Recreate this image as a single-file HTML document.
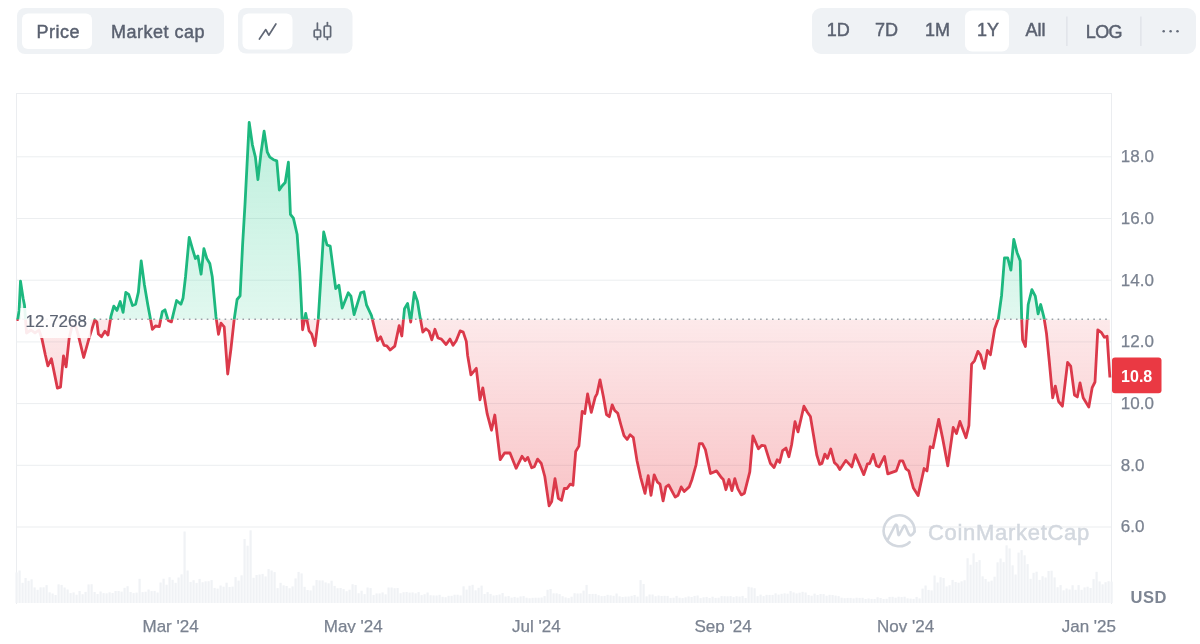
<!DOCTYPE html>
<html><head><meta charset="utf-8">
<style>
html,body{margin:0;padding:0;background:#fff;width:1200px;height:644px;overflow:hidden;}
svg{display:block;font-family:"Liberation Sans",sans-serif;will-change:transform;}
.btn{fill:#5a6170;font-size:18px;font-weight:normal;stroke:#5a6170;stroke-width:0.45;letter-spacing:0.5px;}
.btn2{fill:#5a6170;font-size:18px;stroke:#5a6170;stroke-width:0.45;}
.ax{fill:#7a8290;font-size:17px;stroke:#7a8290;stroke-width:0.25;}
</style></head><body>
<svg width="1200" height="644" viewBox="0 0 1200 644">
<defs>
  <linearGradient id="gG" x1="0" y1="120" x2="0" y2="319.5" gradientUnits="userSpaceOnUse">
    <stop offset="0" stop-color="#16c784" stop-opacity="0.28"/>
    <stop offset="1" stop-color="#16c784" stop-opacity="0.13"/>
  </linearGradient>
  <linearGradient id="gR" x1="0" y1="319.5" x2="0" y2="505" gradientUnits="userSpaceOnUse">
    <stop offset="0" stop-color="#ea3943" stop-opacity="0.11"/>
    <stop offset="1" stop-color="#ea3943" stop-opacity="0.30"/>
  </linearGradient>
  <clipPath id="cTop"><rect x="0" y="0" width="1200" height="319.5"/></clipPath>
  <clipPath id="cBot"><rect x="0" y="319.5" width="1200" height="330"/></clipPath>
</defs>

<!-- button group 1 -->
<rect x="17" y="8" width="207" height="46" rx="8" fill="#eff2f5"/>
<rect x="22" y="13.5" width="70" height="35.5" rx="6" fill="#fff"/>
<text class="btn" x="36.4" y="38">Price</text>
<text class="btn" x="111" y="38">Market cap</text>

<!-- button group 2 -->
<rect x="238" y="8" width="114.5" height="45.5" rx="8" fill="#eff2f5"/>
<rect x="242.5" y="13.5" width="50" height="36" rx="6" fill="#fff"/>
<polyline points="259.4,39 265.8,29.6 268.8,35.2 275.9,24" fill="none" stroke="#616876" stroke-width="1.7" stroke-linecap="round" stroke-linejoin="round"/>
<g fill="none" stroke="#616876" stroke-width="1.7" stroke-linecap="round">
  <line x1="317.4" y1="23" x2="317.4" y2="39.4"/>
  <rect x="314.2" y="30" width="6.4" height="7" rx="1" fill="#eff2f5"/>
  <line x1="327.4" y1="22.5" x2="327.4" y2="39.4"/>
  <rect x="324.2" y="26" width="6.4" height="11" rx="1" fill="#eff2f5"/>
</g>

<!-- button group 3 -->
<rect x="812" y="8" width="384" height="46" rx="9" fill="#eff2f5"/>
<rect x="965" y="10.5" width="44" height="41" rx="7" fill="#fff"/>
<text class="btn2" x="826.7" y="36">1D</text>
<text class="btn2" x="875" y="36">7D</text>
<text class="btn2" x="925" y="36">1M</text>
<text class="btn2" x="977" y="36">1Y</text>
<text class="btn2" x="1025.4" y="36">All</text>
<rect x="1066.4" y="16.5" width="1" height="29.5" fill="#d9dde3"/>
<text class="btn2" x="1085.8" y="37.5" letter-spacing="-0.6">LOG</text>
<rect x="1140.4" y="16.5" width="1" height="29.5" fill="#d9dde3"/>
<circle cx="1163.7" cy="31.3" r="1.25" fill="#656c7a"/>
<circle cx="1170.6" cy="31.3" r="1.25" fill="#656c7a"/>
<circle cx="1177.5" cy="31.3" r="1.25" fill="#656c7a"/>

<!-- chart frame -->
<g fill="#ebedf0">
  <rect x="16" y="93" width="1096" height="1"/>
  <rect x="16" y="93" width="1" height="511"/>
  <rect x="1111" y="93" width="1" height="511"/>
</g>
<g fill="#eceef0">
  <rect x="16" y="156.3" width="1095.5" height="1"/>
  <rect x="16" y="218" width="1095.5" height="1"/>
  <rect x="16" y="279.7" width="1095.5" height="1"/>
  <rect x="16" y="341.4" width="1095.5" height="1"/>
  <rect x="16" y="403.1" width="1095.5" height="1"/>
  <rect x="16" y="464.8" width="1095.5" height="1"/>
  <rect x="16" y="526.5" width="1095.5" height="1"/>
</g>

<!-- watermark -->
<g fill="none" stroke="#d3d8df" stroke-width="2.6" stroke-linecap="round" stroke-linejoin="round">
  <path d="M909.6,542.2 A15.5,15.5 0 1 1 914.6,531.5"/>
  <path d="M887.6,540 L895,525.5 Q896,523.5 897,525.5 L898.2,534 Q898.6,536.5 899.6,534 L903.5,526.5 Q904.5,524.5 905.5,526.5 L908.5,533.5 Q911,538 914.6,531.5"/>
</g>
<text x="928" y="540.3" font-size="22" fill="#d3d8df" stroke="#d3d8df" stroke-width="0.5" letter-spacing="0.7">CoinMarketCap</text>
<!-- volume -->
<g fill="#f0f2f5"><rect x="15.5" y="572.4" width="2.2" height="30.6"/><rect x="18.5" y="570.5" width="2.2" height="32.5"/><rect x="21.5" y="582.8" width="2.2" height="20.2"/><rect x="24.5" y="578.0" width="2.2" height="25.0"/><rect x="27.5" y="580.8" width="2.2" height="22.2"/><rect x="30.5" y="579.3" width="2.2" height="23.7"/><rect x="33.5" y="587.4" width="2.2" height="15.6"/><rect x="36.5" y="589.8" width="2.2" height="13.2"/><rect x="39.5" y="587.3" width="2.2" height="15.7"/><rect x="42.5" y="587.3" width="2.2" height="15.7"/><rect x="45.5" y="585.1" width="2.2" height="17.9"/><rect x="48.5" y="592.3" width="2.2" height="10.7"/><rect x="51.5" y="593.5" width="2.2" height="9.5"/><rect x="54.5" y="595.0" width="2.2" height="8.0"/><rect x="57.5" y="584.3" width="2.2" height="18.7"/><rect x="60.5" y="584.9" width="2.2" height="18.1"/><rect x="63.5" y="587.5" width="2.2" height="15.5"/><rect x="66.5" y="589.5" width="2.2" height="13.5"/><rect x="69.5" y="593.1" width="2.2" height="9.9"/><rect x="72.5" y="592.4" width="2.2" height="10.6"/><rect x="75.5" y="594.7" width="2.2" height="8.3"/><rect x="78.5" y="591.0" width="2.2" height="12.0"/><rect x="81.5" y="594.2" width="2.2" height="8.8"/><rect x="84.5" y="591.9" width="2.2" height="11.1"/><rect x="87.5" y="584.4" width="2.2" height="18.6"/><rect x="90.5" y="584.2" width="2.2" height="18.8"/><rect x="93.5" y="592.0" width="2.2" height="11.0"/><rect x="96.5" y="594.0" width="2.2" height="9.0"/><rect x="99.5" y="591.5" width="2.2" height="11.5"/><rect x="102.5" y="593.1" width="2.2" height="9.9"/><rect x="105.5" y="593.3" width="2.2" height="9.7"/><rect x="108.5" y="592.3" width="2.2" height="10.7"/><rect x="111.5" y="593.0" width="2.2" height="10.0"/><rect x="114.5" y="591.0" width="2.2" height="12.0"/><rect x="117.5" y="591.0" width="2.2" height="12.0"/><rect x="120.5" y="591.6" width="2.2" height="11.4"/><rect x="123.5" y="587.8" width="2.2" height="15.2"/><rect x="126.5" y="586.2" width="2.2" height="16.8"/><rect x="129.5" y="592.0" width="2.2" height="11.0"/><rect x="132.5" y="593.1" width="2.2" height="9.9"/><rect x="135.5" y="592.6" width="2.2" height="10.4"/><rect x="138.5" y="578.8" width="2.2" height="24.2"/><rect x="141.5" y="592.1" width="2.2" height="10.9"/><rect x="144.5" y="591.7" width="2.2" height="11.3"/><rect x="147.5" y="589.5" width="2.2" height="13.5"/><rect x="150.5" y="591.1" width="2.2" height="11.9"/><rect x="153.5" y="590.9" width="2.2" height="12.1"/><rect x="156.5" y="592.5" width="2.2" height="10.5"/><rect x="159.5" y="582.5" width="2.2" height="20.5"/><rect x="162.5" y="578.7" width="2.2" height="24.3"/><rect x="165.5" y="584.7" width="2.2" height="18.3"/><rect x="168.5" y="577.2" width="2.2" height="25.8"/><rect x="171.5" y="579.8" width="2.2" height="23.2"/><rect x="174.5" y="582.8" width="2.2" height="20.2"/><rect x="177.5" y="577.5" width="2.2" height="25.5"/><rect x="180.5" y="574.3" width="2.2" height="28.7"/><rect x="183.5" y="531.5" width="2.2" height="71.5"/><rect x="186.5" y="570.5" width="2.2" height="32.5"/><rect x="189.5" y="581.9" width="2.2" height="21.1"/><rect x="192.5" y="580.2" width="2.2" height="22.8"/><rect x="195.5" y="582.9" width="2.2" height="20.1"/><rect x="198.5" y="578.9" width="2.2" height="24.1"/><rect x="201.5" y="582.2" width="2.2" height="20.8"/><rect x="204.5" y="581.3" width="2.2" height="21.7"/><rect x="207.5" y="581.2" width="2.2" height="21.8"/><rect x="210.5" y="580.1" width="2.2" height="22.9"/><rect x="213.5" y="587.9" width="2.2" height="15.1"/><rect x="216.5" y="588.6" width="2.2" height="14.4"/><rect x="219.5" y="585.5" width="2.2" height="17.5"/><rect x="222.5" y="586.7" width="2.2" height="16.3"/><rect x="225.5" y="582.7" width="2.2" height="20.3"/><rect x="228.5" y="587.0" width="2.2" height="16.0"/><rect x="231.5" y="586.6" width="2.2" height="16.4"/><rect x="234.5" y="577.1" width="2.2" height="25.9"/><rect x="237.5" y="580.6" width="2.2" height="22.4"/><rect x="240.5" y="575.3" width="2.2" height="27.7"/><rect x="243.5" y="539.0" width="2.2" height="64.0"/><rect x="246.5" y="545.7" width="2.2" height="57.3"/><rect x="249.5" y="530.3" width="2.2" height="72.7"/><rect x="252.5" y="577.8" width="2.2" height="25.2"/><rect x="255.5" y="575.0" width="2.2" height="28.0"/><rect x="258.5" y="574.5" width="2.2" height="28.5"/><rect x="261.5" y="573.9" width="2.2" height="29.1"/><rect x="264.5" y="576.4" width="2.2" height="26.6"/><rect x="267.5" y="569.1" width="2.2" height="33.9"/><rect x="270.5" y="570.5" width="2.2" height="32.5"/><rect x="273.5" y="572.1" width="2.2" height="30.9"/><rect x="276.5" y="588.1" width="2.2" height="14.9"/><rect x="279.5" y="582.8" width="2.2" height="20.2"/><rect x="282.5" y="585.3" width="2.2" height="17.7"/><rect x="285.5" y="586.0" width="2.2" height="17.0"/><rect x="288.5" y="588.2" width="2.2" height="14.8"/><rect x="291.5" y="586.4" width="2.2" height="16.6"/><rect x="294.5" y="578.4" width="2.2" height="24.6"/><rect x="297.5" y="571.9" width="2.2" height="31.1"/><rect x="300.5" y="573.4" width="2.2" height="29.6"/><rect x="303.5" y="586.8" width="2.2" height="16.2"/><rect x="306.5" y="590.0" width="2.2" height="13.0"/><rect x="309.5" y="590.4" width="2.2" height="12.6"/><rect x="312.5" y="585.6" width="2.2" height="17.4"/><rect x="315.5" y="580.0" width="2.2" height="23.0"/><rect x="318.5" y="580.4" width="2.2" height="22.6"/><rect x="321.5" y="580.4" width="2.2" height="22.6"/><rect x="324.5" y="582.4" width="2.2" height="20.6"/><rect x="327.5" y="583.3" width="2.2" height="19.7"/><rect x="330.5" y="580.7" width="2.2" height="22.3"/><rect x="333.5" y="585.9" width="2.2" height="17.1"/><rect x="336.5" y="588.2" width="2.2" height="14.8"/><rect x="339.5" y="588.0" width="2.2" height="15.0"/><rect x="342.5" y="589.1" width="2.2" height="13.9"/><rect x="345.5" y="591.2" width="2.2" height="11.8"/><rect x="348.5" y="589.7" width="2.2" height="13.3"/><rect x="351.5" y="584.2" width="2.2" height="18.8"/><rect x="354.5" y="585.0" width="2.2" height="18.0"/><rect x="357.5" y="593.2" width="2.2" height="9.8"/><rect x="360.5" y="590.7" width="2.2" height="12.3"/><rect x="363.5" y="594.1" width="2.2" height="8.9"/><rect x="366.5" y="587.5" width="2.2" height="15.5"/><rect x="369.5" y="588.1" width="2.2" height="14.9"/><rect x="372.5" y="594.9" width="2.2" height="8.1"/><rect x="375.5" y="593.4" width="2.2" height="9.6"/><rect x="378.5" y="593.4" width="2.2" height="9.6"/><rect x="381.5" y="592.4" width="2.2" height="10.6"/><rect x="384.5" y="594.3" width="2.2" height="8.7"/><rect x="387.5" y="587.5" width="2.2" height="15.5"/><rect x="390.5" y="587.5" width="2.2" height="15.5"/><rect x="393.5" y="588.2" width="2.2" height="14.8"/><rect x="396.5" y="588.0" width="2.2" height="15.0"/><rect x="399.5" y="593.2" width="2.2" height="9.8"/><rect x="402.5" y="592.2" width="2.2" height="10.8"/><rect x="405.5" y="592.0" width="2.2" height="11.0"/><rect x="408.5" y="592.6" width="2.2" height="10.4"/><rect x="411.5" y="592.4" width="2.2" height="10.6"/><rect x="414.5" y="593.3" width="2.2" height="9.7"/><rect x="417.5" y="592.1" width="2.2" height="10.9"/><rect x="420.5" y="595.1" width="2.2" height="7.9"/><rect x="423.5" y="594.2" width="2.2" height="8.8"/><rect x="426.5" y="592.5" width="2.2" height="10.5"/><rect x="429.5" y="595.2" width="2.2" height="7.8"/><rect x="432.5" y="595.4" width="2.2" height="7.6"/><rect x="435.5" y="595.5" width="2.2" height="7.5"/><rect x="438.5" y="594.8" width="2.2" height="8.2"/><rect x="441.5" y="596.8" width="2.2" height="6.2"/><rect x="444.5" y="597.2" width="2.2" height="5.8"/><rect x="447.5" y="595.8" width="2.2" height="7.2"/><rect x="450.5" y="595.8" width="2.2" height="7.2"/><rect x="453.5" y="594.7" width="2.2" height="8.3"/><rect x="456.5" y="594.7" width="2.2" height="8.3"/><rect x="459.5" y="595.4" width="2.2" height="7.6"/><rect x="462.5" y="586.3" width="2.2" height="16.7"/><rect x="465.5" y="589.6" width="2.2" height="13.4"/><rect x="468.5" y="585.7" width="2.2" height="17.3"/><rect x="471.5" y="584.8" width="2.2" height="18.2"/><rect x="474.5" y="590.3" width="2.2" height="12.7"/><rect x="477.5" y="587.8" width="2.2" height="15.2"/><rect x="480.5" y="585.6" width="2.2" height="17.4"/><rect x="483.5" y="594.0" width="2.2" height="9.0"/><rect x="486.5" y="592.1" width="2.2" height="10.9"/><rect x="489.5" y="593.9" width="2.2" height="9.1"/><rect x="492.5" y="595.5" width="2.2" height="7.5"/><rect x="495.5" y="595.1" width="2.2" height="7.9"/><rect x="498.5" y="594.5" width="2.2" height="8.5"/><rect x="501.5" y="593.0" width="2.2" height="10.0"/><rect x="504.5" y="596.5" width="2.2" height="6.5"/><rect x="507.5" y="596.0" width="2.2" height="7.0"/><rect x="510.5" y="597.6" width="2.2" height="5.4"/><rect x="513.5" y="596.9" width="2.2" height="6.1"/><rect x="516.5" y="597.6" width="2.2" height="5.4"/><rect x="519.5" y="596.4" width="2.2" height="6.6"/><rect x="522.5" y="596.1" width="2.2" height="6.9"/><rect x="525.5" y="597.7" width="2.2" height="5.3"/><rect x="528.5" y="598.2" width="2.2" height="4.8"/><rect x="531.5" y="597.8" width="2.2" height="5.2"/><rect x="534.5" y="597.7" width="2.2" height="5.3"/><rect x="537.5" y="597.7" width="2.2" height="5.3"/><rect x="540.5" y="597.5" width="2.2" height="5.5"/><rect x="543.5" y="596.1" width="2.2" height="6.9"/><rect x="546.5" y="589.8" width="2.2" height="13.2"/><rect x="549.5" y="589.0" width="2.2" height="14.0"/><rect x="552.5" y="593.3" width="2.2" height="9.7"/><rect x="555.5" y="593.3" width="2.2" height="9.7"/><rect x="558.5" y="594.1" width="2.2" height="8.9"/><rect x="561.5" y="596.2" width="2.2" height="6.8"/><rect x="564.5" y="597.4" width="2.2" height="5.6"/><rect x="567.5" y="598.1" width="2.2" height="4.9"/><rect x="570.5" y="596.7" width="2.2" height="6.3"/><rect x="573.5" y="593.2" width="2.2" height="9.8"/><rect x="576.5" y="593.5" width="2.2" height="9.5"/><rect x="579.5" y="593.3" width="2.2" height="9.7"/><rect x="582.5" y="590.6" width="2.2" height="12.4"/><rect x="585.5" y="584.9" width="2.2" height="18.1"/><rect x="588.5" y="594.0" width="2.2" height="9.0"/><rect x="591.5" y="593.9" width="2.2" height="9.1"/><rect x="594.5" y="593.9" width="2.2" height="9.1"/><rect x="597.5" y="595.2" width="2.2" height="7.8"/><rect x="600.5" y="596.1" width="2.2" height="6.9"/><rect x="603.5" y="595.9" width="2.2" height="7.1"/><rect x="606.5" y="594.8" width="2.2" height="8.2"/><rect x="609.5" y="595.3" width="2.2" height="7.7"/><rect x="612.5" y="595.8" width="2.2" height="7.2"/><rect x="615.5" y="593.5" width="2.2" height="9.5"/><rect x="618.5" y="596.3" width="2.2" height="6.7"/><rect x="621.5" y="597.0" width="2.2" height="6.0"/><rect x="624.5" y="596.6" width="2.2" height="6.4"/><rect x="627.5" y="596.5" width="2.2" height="6.5"/><rect x="630.5" y="595.8" width="2.2" height="7.2"/><rect x="633.5" y="595.0" width="2.2" height="8.0"/><rect x="636.5" y="596.6" width="2.2" height="6.4"/><rect x="639.5" y="580.1" width="2.2" height="22.9"/><rect x="642.5" y="584.0" width="2.2" height="19.0"/><rect x="645.5" y="596.3" width="2.2" height="6.7"/><rect x="648.5" y="594.5" width="2.2" height="8.5"/><rect x="651.5" y="594.5" width="2.2" height="8.5"/><rect x="654.5" y="596.2" width="2.2" height="6.8"/><rect x="657.5" y="595.5" width="2.2" height="7.5"/><rect x="660.5" y="596.0" width="2.2" height="7.0"/><rect x="663.5" y="595.8" width="2.2" height="7.2"/><rect x="666.5" y="595.9" width="2.2" height="7.1"/><rect x="669.5" y="597.9" width="2.2" height="5.1"/><rect x="672.5" y="597.7" width="2.2" height="5.3"/><rect x="675.5" y="595.9" width="2.2" height="7.1"/><rect x="678.5" y="597.7" width="2.2" height="5.3"/><rect x="681.5" y="598.1" width="2.2" height="4.9"/><rect x="684.5" y="597.3" width="2.2" height="5.7"/><rect x="687.5" y="596.4" width="2.2" height="6.6"/><rect x="690.5" y="597.0" width="2.2" height="6.0"/><rect x="693.5" y="595.9" width="2.2" height="7.1"/><rect x="696.5" y="595.5" width="2.2" height="7.5"/><rect x="699.5" y="598.1" width="2.2" height="4.9"/><rect x="702.5" y="597.3" width="2.2" height="5.7"/><rect x="705.5" y="596.9" width="2.2" height="6.1"/><rect x="708.5" y="598.0" width="2.2" height="5.0"/><rect x="711.5" y="596.7" width="2.2" height="6.3"/><rect x="714.5" y="597.9" width="2.2" height="5.1"/><rect x="717.5" y="597.7" width="2.2" height="5.3"/><rect x="720.5" y="596.1" width="2.2" height="6.9"/><rect x="723.5" y="596.2" width="2.2" height="6.8"/><rect x="726.5" y="596.3" width="2.2" height="6.7"/><rect x="729.5" y="596.1" width="2.2" height="6.9"/><rect x="732.5" y="597.1" width="2.2" height="5.9"/><rect x="735.5" y="596.2" width="2.2" height="6.8"/><rect x="738.5" y="596.6" width="2.2" height="6.4"/><rect x="741.5" y="595.9" width="2.2" height="7.1"/><rect x="744.5" y="598.0" width="2.2" height="5.0"/><rect x="747.5" y="586.8" width="2.2" height="16.2"/><rect x="750.5" y="587.4" width="2.2" height="15.6"/><rect x="753.5" y="588.2" width="2.2" height="14.8"/><rect x="756.5" y="596.1" width="2.2" height="6.9"/><rect x="759.5" y="594.6" width="2.2" height="8.4"/><rect x="762.5" y="596.1" width="2.2" height="6.9"/><rect x="765.5" y="594.8" width="2.2" height="8.2"/><rect x="768.5" y="594.9" width="2.2" height="8.1"/><rect x="771.5" y="594.9" width="2.2" height="8.1"/><rect x="774.5" y="593.3" width="2.2" height="9.7"/><rect x="777.5" y="594.6" width="2.2" height="8.4"/><rect x="780.5" y="593.8" width="2.2" height="9.2"/><rect x="783.5" y="593.3" width="2.2" height="9.7"/><rect x="786.5" y="593.7" width="2.2" height="9.3"/><rect x="789.5" y="591.1" width="2.2" height="11.9"/><rect x="792.5" y="592.4" width="2.2" height="10.6"/><rect x="795.5" y="593.4" width="2.2" height="9.6"/><rect x="798.5" y="592.7" width="2.2" height="10.3"/><rect x="801.5" y="591.8" width="2.2" height="11.2"/><rect x="804.5" y="592.5" width="2.2" height="10.5"/><rect x="807.5" y="595.0" width="2.2" height="8.0"/><rect x="810.5" y="595.7" width="2.2" height="7.3"/><rect x="813.5" y="593.6" width="2.2" height="9.4"/><rect x="816.5" y="595.0" width="2.2" height="8.0"/><rect x="819.5" y="594.0" width="2.2" height="9.0"/><rect x="822.5" y="594.1" width="2.2" height="8.9"/><rect x="825.5" y="595.7" width="2.2" height="7.3"/><rect x="828.5" y="594.8" width="2.2" height="8.2"/><rect x="831.5" y="595.0" width="2.2" height="8.0"/><rect x="834.5" y="595.6" width="2.2" height="7.4"/><rect x="837.5" y="596.1" width="2.2" height="6.9"/><rect x="840.5" y="597.7" width="2.2" height="5.3"/><rect x="843.5" y="598.2" width="2.2" height="4.8"/><rect x="846.5" y="597.9" width="2.2" height="5.1"/><rect x="849.5" y="597.9" width="2.2" height="5.1"/><rect x="852.5" y="598.4" width="2.2" height="4.6"/><rect x="855.5" y="597.7" width="2.2" height="5.3"/><rect x="858.5" y="597.9" width="2.2" height="5.1"/><rect x="861.5" y="597.8" width="2.2" height="5.2"/><rect x="864.5" y="599.0" width="2.2" height="4.0"/><rect x="867.5" y="598.4" width="2.2" height="4.6"/><rect x="870.5" y="598.9" width="2.2" height="4.1"/><rect x="873.5" y="599.0" width="2.2" height="4.0"/><rect x="876.5" y="597.2" width="2.2" height="5.8"/><rect x="879.5" y="598.0" width="2.2" height="5.0"/><rect x="882.5" y="599.0" width="2.2" height="4.0"/><rect x="885.5" y="598.8" width="2.2" height="4.2"/><rect x="888.5" y="596.9" width="2.2" height="6.1"/><rect x="891.5" y="596.8" width="2.2" height="6.2"/><rect x="894.5" y="597.7" width="2.2" height="5.3"/><rect x="897.5" y="596.7" width="2.2" height="6.3"/><rect x="900.5" y="597.1" width="2.2" height="5.9"/><rect x="903.5" y="596.7" width="2.2" height="6.3"/><rect x="906.5" y="598.3" width="2.2" height="4.7"/><rect x="909.5" y="598.6" width="2.2" height="4.4"/><rect x="912.5" y="598.9" width="2.2" height="4.1"/><rect x="915.5" y="596.9" width="2.2" height="6.1"/><rect x="918.5" y="598.4" width="2.2" height="4.6"/><rect x="921.5" y="588.6" width="2.2" height="14.4"/><rect x="924.5" y="585.5" width="2.2" height="17.5"/><rect x="927.5" y="589.9" width="2.2" height="13.1"/><rect x="930.5" y="590.4" width="2.2" height="12.6"/><rect x="933.5" y="575.5" width="2.2" height="27.5"/><rect x="936.5" y="582.5" width="2.2" height="20.5"/><rect x="939.5" y="577.2" width="2.2" height="25.8"/><rect x="942.5" y="578.0" width="2.2" height="25.0"/><rect x="945.5" y="586.4" width="2.2" height="16.6"/><rect x="948.5" y="585.2" width="2.2" height="17.8"/><rect x="951.5" y="579.9" width="2.2" height="23.1"/><rect x="954.5" y="582.0" width="2.2" height="21.0"/><rect x="957.5" y="582.7" width="2.2" height="20.3"/><rect x="960.5" y="581.3" width="2.2" height="21.7"/><rect x="963.5" y="580.2" width="2.2" height="22.8"/><rect x="966.5" y="558.2" width="2.2" height="44.8"/><rect x="969.5" y="564.7" width="2.2" height="38.3"/><rect x="972.5" y="553.3" width="2.2" height="49.7"/><rect x="975.5" y="562.0" width="2.2" height="41.0"/><rect x="978.5" y="560.1" width="2.2" height="42.9"/><rect x="981.5" y="576.3" width="2.2" height="26.7"/><rect x="984.5" y="579.0" width="2.2" height="24.0"/><rect x="987.5" y="581.6" width="2.2" height="21.4"/><rect x="990.5" y="580.6" width="2.2" height="22.4"/><rect x="993.5" y="576.7" width="2.2" height="26.3"/><rect x="996.5" y="562.3" width="2.2" height="40.7"/><rect x="999.5" y="558.5" width="2.2" height="44.5"/><rect x="1002.5" y="562.1" width="2.2" height="40.9"/><rect x="1005.5" y="545.3" width="2.2" height="57.7"/><rect x="1008.5" y="548.4" width="2.2" height="54.6"/><rect x="1011.5" y="565.3" width="2.2" height="37.7"/><rect x="1014.5" y="574.5" width="2.2" height="28.5"/><rect x="1017.5" y="552.6" width="2.2" height="50.4"/><rect x="1020.5" y="550.1" width="2.2" height="52.9"/><rect x="1023.5" y="555.3" width="2.2" height="47.7"/><rect x="1026.5" y="564.1" width="2.2" height="38.9"/><rect x="1029.5" y="578.8" width="2.2" height="24.2"/><rect x="1032.5" y="572.8" width="2.2" height="30.2"/><rect x="1035.5" y="571.7" width="2.2" height="31.3"/><rect x="1038.5" y="579.9" width="2.2" height="23.1"/><rect x="1041.5" y="576.2" width="2.2" height="26.8"/><rect x="1044.5" y="577.5" width="2.2" height="25.5"/><rect x="1047.5" y="571.0" width="2.2" height="32.0"/><rect x="1050.5" y="570.7" width="2.2" height="32.3"/><rect x="1053.5" y="577.4" width="2.2" height="25.6"/><rect x="1056.5" y="587.2" width="2.2" height="15.8"/><rect x="1059.5" y="585.1" width="2.2" height="17.9"/><rect x="1062.5" y="590.3" width="2.2" height="12.7"/><rect x="1065.5" y="588.5" width="2.2" height="14.5"/><rect x="1068.5" y="589.5" width="2.2" height="13.5"/><rect x="1071.5" y="585.2" width="2.2" height="17.8"/><rect x="1074.5" y="589.8" width="2.2" height="13.2"/><rect x="1077.5" y="585.1" width="2.2" height="17.9"/><rect x="1080.5" y="589.8" width="2.2" height="13.2"/><rect x="1083.5" y="587.4" width="2.2" height="15.6"/><rect x="1086.5" y="586.7" width="2.2" height="16.3"/><rect x="1089.5" y="588.0" width="2.2" height="15.0"/><rect x="1092.5" y="579.1" width="2.2" height="23.9"/><rect x="1095.5" y="571.8" width="2.2" height="31.2"/><rect x="1098.5" y="581.4" width="2.2" height="21.6"/><rect x="1101.5" y="584.3" width="2.2" height="18.7"/><rect x="1104.5" y="582.2" width="2.2" height="20.8"/><rect x="1107.5" y="581.2" width="2.2" height="21.8"/><rect x="1110.5" y="581.6" width="2.2" height="21.4"/></g>

<!-- areas -->
<path d="M16.5,319.5 L17.7,319.5 L19.1,310.4 L20.5,281.1 L23.1,298.3 L24.5,305.3 L26.5,333.0 L31.0,330.0 L35.0,333.0 L39.0,330.0 L41.9,338.6 L45.3,354.8 L47.9,365.9 L51.4,358.8 L57.4,388.1 L60.5,387.1 L63.5,355.8 L66.1,366.9 L69.1,338.8 L72.0,326.0 L76.0,327.0 L79.2,338.8 L83.7,357.5 L89.3,337.3 L94.8,319.8 L96.9,322.2 L98.4,334.0 L101.5,336.8 L104.9,331.2 L108.0,335.0 L110.9,316.4 L113.8,306.1 L117.0,310.4 L120.2,301.5 L123.1,312.3 L125.8,292.5 L128.7,294.4 L132.5,305.5 L135.6,304.2 L138.4,292.1 L141.2,260.9 L144.4,284.7 L147.7,304.2 L152.4,329.4 L155.5,326.0 L159.3,326.6 L162.3,311.7 L165.0,309.8 L168.2,320.4 L171.4,321.9 L176.6,300.5 L180.9,304.2 L183.0,298.3 L185.5,277.0 L189.2,237.4 L192.4,248.6 L195.4,258.5 L197.9,256.0 L201.1,274.2 L203.9,248.6 L206.8,258.5 L209.8,263.5 L212.3,277.1 L216.0,316.9 L218.5,334.3 L221.0,323.1 L224.2,326.8 L227.7,374.0 L230.9,349.2 L234.2,319.4 L237.1,299.5 L240.1,295.8 L242.6,244.8 L245.0,204.4 L249.2,122.4 L252.4,144.8 L255.4,157.2 L257.9,179.6 L261.1,152.2 L264.1,131.1 L267.3,152.2 L269.8,157.2 L273.5,159.7 L276.8,160.9 L279.3,190.0 L282.2,185.8 L285.2,182.5 L288.4,162.2 L290.4,214.3 L293.4,218.1 L297.1,234.2 L299.8,272.2 L302.6,329.8 L305.7,313.5 L309.1,330.9 L311.7,334.1 L315.0,345.7 L318.3,318.9 L323.7,232.0 L327.0,245.0 L330.2,246.1 L335.7,288.5 L338.9,285.2 L342.2,308.0 L348.3,292.8 L350.9,296.1 L354.1,314.6 L360.7,292.8 L363.9,291.7 L366.5,304.8 L371.5,315.7 L377.5,340.7 L380.6,336.8 L384.0,345.3 L386.8,345.8 L390.2,350.0 L394.8,346.1 L399.2,325.6 L401.8,336.0 L404.5,308.8 L407.6,303.4 L410.7,322.0 L414.3,292.5 L417.4,301.1 L419.7,315.0 L422.8,332.1 L425.9,328.7 L429.0,331.3 L431.8,339.9 L434.9,329.3 L438.0,338.0 L441.4,339.1 L446.1,344.5 L450.0,339.1 L453.1,345.3 L456.2,340.7 L460.1,330.9 L463.2,332.1 L466.3,341.4 L467.6,355.2 L470.9,374.8 L476.3,368.3 L480.0,399.8 L482.8,387.8 L487.2,413.9 L491.5,430.2 L494.8,415.0 L500.2,459.6 L504.6,453.0 L510.0,453.0 L516.1,468.3 L522.0,456.3 L525.2,460.7 L527.8,457.4 L531.7,467.8 L534.3,466.7 L537.6,459.1 L541.3,463.5 L544.8,476.5 L549.1,505.9 L551.7,501.5 L555.0,478.7 L558.3,498.3 L561.5,500.4 L564.3,488.5 L567.0,488.5 L570.2,484.1 L573.0,485.2 L575.7,451.5 L578.9,446.1 L582.2,411.3 L584.8,413.5 L587.6,393.9 L591.3,412.4 L595.2,397.2 L597.0,393.9 L600.0,379.8 L603.5,397.2 L606.5,414.6 L609.3,416.7 L612.2,404.9 L614.7,410.5 L617.8,413.3 L620.8,424.5 L624.0,435.6 L627.1,439.4 L630.1,434.7 L633.3,437.5 L637.0,460.8 L640.7,477.6 L645.0,493.4 L648.2,475.7 L651.0,495.3 L654.2,474.8 L657.5,482.2 L660.0,484.1 L663.1,500.9 L665.9,486.9 L668.7,485.0 L675.2,497.1 L678.0,495.3 L681.2,486.9 L684.2,491.5 L689.2,486.9 L692.0,479.4 L696.0,465.0 L699.4,443.6 L702.3,443.6 L705.4,449.6 L710.5,473.5 L716.5,470.9 L721.6,477.8 L723.3,479.5 L725.9,489.7 L729.0,479.5 L731.9,490.6 L734.8,478.6 L737.9,488.9 L741.3,494.9 L744.4,493.2 L749.8,471.8 L752.9,435.9 L758.4,448.7 L761.8,445.3 L764.9,445.8 L770.3,463.2 L774.1,467.5 L777.2,459.8 L779.7,462.4 L782.6,450.7 L786.0,448.1 L788.9,456.7 L791.6,444.7 L795.0,421.6 L798.0,431.9 L803.9,406.2 L807.4,412.2 L810.4,416.5 L816.8,455.0 L819.7,464.4 L821.9,463.5 L824.8,454.1 L827.5,458.4 L830.8,449.0 L834.4,462.6 L837.3,465.2 L839.8,469.5 L845.8,460.4 L851.8,466.9 L855.2,454.6 L863.8,474.6 L867.5,463.8 L869.7,463.5 L873.2,454.4 L876.4,465.5 L879.1,466.9 L884.5,456.4 L887.8,473.9 L896.3,470.9 L899.9,460.8 L902.7,460.8 L906.0,468.9 L908.8,470.9 L913.4,488.1 L918.1,495.6 L924.1,468.5 L927.0,470.9 L930.2,446.7 L933.0,447.7 L938.7,419.4 L942.7,438.6 L947.8,465.9 L953.2,427.5 L956.5,433.5 L959.9,421.4 L966.0,437.7 L968.9,425.7 L971.6,364.2 L974.5,360.8 L977.9,351.4 L980.5,354.8 L984.3,368.5 L987.4,350.5 L990.4,354.8 L994.7,328.8 L998.4,318.5 L1001.6,295.2 L1004.5,257.9 L1007.7,257.9 L1010.9,270.1 L1013.8,239.3 L1017.0,252.4 L1020.2,260.7 L1021.7,319.4 L1022.6,339.9 L1025.4,346.5 L1028.2,304.5 L1031.9,289.6 L1035.3,296.1 L1038.1,313.8 L1040.7,304.5 L1044.0,317.6 L1046.5,333.5 L1049.3,361.5 L1052.7,397.8 L1055.3,386.1 L1058.6,401.5 L1062.4,406.2 L1067.6,362.4 L1070.7,366.1 L1074.5,395.0 L1077.3,396.9 L1080.0,382.9 L1083.2,397.8 L1088.8,407.1 L1092.2,387.6 L1095.0,382.0 L1097.8,329.8 L1101.5,332.6 L1104.3,337.3 L1107.1,336.3 L1109.9,377.5 L1109.9,319.5 L16.5,319.5 Z" fill="url(#gG)" clip-path="url(#cTop)"/>
<path d="M16.5,319.5 L17.7,319.5 L19.1,310.4 L20.5,281.1 L23.1,298.3 L24.5,305.3 L26.5,333.0 L31.0,330.0 L35.0,333.0 L39.0,330.0 L41.9,338.6 L45.3,354.8 L47.9,365.9 L51.4,358.8 L57.4,388.1 L60.5,387.1 L63.5,355.8 L66.1,366.9 L69.1,338.8 L72.0,326.0 L76.0,327.0 L79.2,338.8 L83.7,357.5 L89.3,337.3 L94.8,319.8 L96.9,322.2 L98.4,334.0 L101.5,336.8 L104.9,331.2 L108.0,335.0 L110.9,316.4 L113.8,306.1 L117.0,310.4 L120.2,301.5 L123.1,312.3 L125.8,292.5 L128.7,294.4 L132.5,305.5 L135.6,304.2 L138.4,292.1 L141.2,260.9 L144.4,284.7 L147.7,304.2 L152.4,329.4 L155.5,326.0 L159.3,326.6 L162.3,311.7 L165.0,309.8 L168.2,320.4 L171.4,321.9 L176.6,300.5 L180.9,304.2 L183.0,298.3 L185.5,277.0 L189.2,237.4 L192.4,248.6 L195.4,258.5 L197.9,256.0 L201.1,274.2 L203.9,248.6 L206.8,258.5 L209.8,263.5 L212.3,277.1 L216.0,316.9 L218.5,334.3 L221.0,323.1 L224.2,326.8 L227.7,374.0 L230.9,349.2 L234.2,319.4 L237.1,299.5 L240.1,295.8 L242.6,244.8 L245.0,204.4 L249.2,122.4 L252.4,144.8 L255.4,157.2 L257.9,179.6 L261.1,152.2 L264.1,131.1 L267.3,152.2 L269.8,157.2 L273.5,159.7 L276.8,160.9 L279.3,190.0 L282.2,185.8 L285.2,182.5 L288.4,162.2 L290.4,214.3 L293.4,218.1 L297.1,234.2 L299.8,272.2 L302.6,329.8 L305.7,313.5 L309.1,330.9 L311.7,334.1 L315.0,345.7 L318.3,318.9 L323.7,232.0 L327.0,245.0 L330.2,246.1 L335.7,288.5 L338.9,285.2 L342.2,308.0 L348.3,292.8 L350.9,296.1 L354.1,314.6 L360.7,292.8 L363.9,291.7 L366.5,304.8 L371.5,315.7 L377.5,340.7 L380.6,336.8 L384.0,345.3 L386.8,345.8 L390.2,350.0 L394.8,346.1 L399.2,325.6 L401.8,336.0 L404.5,308.8 L407.6,303.4 L410.7,322.0 L414.3,292.5 L417.4,301.1 L419.7,315.0 L422.8,332.1 L425.9,328.7 L429.0,331.3 L431.8,339.9 L434.9,329.3 L438.0,338.0 L441.4,339.1 L446.1,344.5 L450.0,339.1 L453.1,345.3 L456.2,340.7 L460.1,330.9 L463.2,332.1 L466.3,341.4 L467.6,355.2 L470.9,374.8 L476.3,368.3 L480.0,399.8 L482.8,387.8 L487.2,413.9 L491.5,430.2 L494.8,415.0 L500.2,459.6 L504.6,453.0 L510.0,453.0 L516.1,468.3 L522.0,456.3 L525.2,460.7 L527.8,457.4 L531.7,467.8 L534.3,466.7 L537.6,459.1 L541.3,463.5 L544.8,476.5 L549.1,505.9 L551.7,501.5 L555.0,478.7 L558.3,498.3 L561.5,500.4 L564.3,488.5 L567.0,488.5 L570.2,484.1 L573.0,485.2 L575.7,451.5 L578.9,446.1 L582.2,411.3 L584.8,413.5 L587.6,393.9 L591.3,412.4 L595.2,397.2 L597.0,393.9 L600.0,379.8 L603.5,397.2 L606.5,414.6 L609.3,416.7 L612.2,404.9 L614.7,410.5 L617.8,413.3 L620.8,424.5 L624.0,435.6 L627.1,439.4 L630.1,434.7 L633.3,437.5 L637.0,460.8 L640.7,477.6 L645.0,493.4 L648.2,475.7 L651.0,495.3 L654.2,474.8 L657.5,482.2 L660.0,484.1 L663.1,500.9 L665.9,486.9 L668.7,485.0 L675.2,497.1 L678.0,495.3 L681.2,486.9 L684.2,491.5 L689.2,486.9 L692.0,479.4 L696.0,465.0 L699.4,443.6 L702.3,443.6 L705.4,449.6 L710.5,473.5 L716.5,470.9 L721.6,477.8 L723.3,479.5 L725.9,489.7 L729.0,479.5 L731.9,490.6 L734.8,478.6 L737.9,488.9 L741.3,494.9 L744.4,493.2 L749.8,471.8 L752.9,435.9 L758.4,448.7 L761.8,445.3 L764.9,445.8 L770.3,463.2 L774.1,467.5 L777.2,459.8 L779.7,462.4 L782.6,450.7 L786.0,448.1 L788.9,456.7 L791.6,444.7 L795.0,421.6 L798.0,431.9 L803.9,406.2 L807.4,412.2 L810.4,416.5 L816.8,455.0 L819.7,464.4 L821.9,463.5 L824.8,454.1 L827.5,458.4 L830.8,449.0 L834.4,462.6 L837.3,465.2 L839.8,469.5 L845.8,460.4 L851.8,466.9 L855.2,454.6 L863.8,474.6 L867.5,463.8 L869.7,463.5 L873.2,454.4 L876.4,465.5 L879.1,466.9 L884.5,456.4 L887.8,473.9 L896.3,470.9 L899.9,460.8 L902.7,460.8 L906.0,468.9 L908.8,470.9 L913.4,488.1 L918.1,495.6 L924.1,468.5 L927.0,470.9 L930.2,446.7 L933.0,447.7 L938.7,419.4 L942.7,438.6 L947.8,465.9 L953.2,427.5 L956.5,433.5 L959.9,421.4 L966.0,437.7 L968.9,425.7 L971.6,364.2 L974.5,360.8 L977.9,351.4 L980.5,354.8 L984.3,368.5 L987.4,350.5 L990.4,354.8 L994.7,328.8 L998.4,318.5 L1001.6,295.2 L1004.5,257.9 L1007.7,257.9 L1010.9,270.1 L1013.8,239.3 L1017.0,252.4 L1020.2,260.7 L1021.7,319.4 L1022.6,339.9 L1025.4,346.5 L1028.2,304.5 L1031.9,289.6 L1035.3,296.1 L1038.1,313.8 L1040.7,304.5 L1044.0,317.6 L1046.5,333.5 L1049.3,361.5 L1052.7,397.8 L1055.3,386.1 L1058.6,401.5 L1062.4,406.2 L1067.6,362.4 L1070.7,366.1 L1074.5,395.0 L1077.3,396.9 L1080.0,382.9 L1083.2,397.8 L1088.8,407.1 L1092.2,387.6 L1095.0,382.0 L1097.8,329.8 L1101.5,332.6 L1104.3,337.3 L1107.1,336.3 L1109.9,377.5 L1109.9,319.5 L16.5,319.5 Z" fill="url(#gR)" clip-path="url(#cBot)"/>
<!-- dotted baseline -->
<line x1="16.35" y1="319.3" x2="1108" y2="319.3" stroke="#9a9fa6" stroke-width="1.5" stroke-dasharray="1.6 4.35"/>
<!-- lines -->
<path d="M16.5,319.5 L17.7,319.5 L19.1,310.4 L20.5,281.1 L23.1,298.3 L24.5,305.3 L26.5,333.0 L31.0,330.0 L35.0,333.0 L39.0,330.0 L41.9,338.6 L45.3,354.8 L47.9,365.9 L51.4,358.8 L57.4,388.1 L60.5,387.1 L63.5,355.8 L66.1,366.9 L69.1,338.8 L72.0,326.0 L76.0,327.0 L79.2,338.8 L83.7,357.5 L89.3,337.3 L94.8,319.8 L96.9,322.2 L98.4,334.0 L101.5,336.8 L104.9,331.2 L108.0,335.0 L110.9,316.4 L113.8,306.1 L117.0,310.4 L120.2,301.5 L123.1,312.3 L125.8,292.5 L128.7,294.4 L132.5,305.5 L135.6,304.2 L138.4,292.1 L141.2,260.9 L144.4,284.7 L147.7,304.2 L152.4,329.4 L155.5,326.0 L159.3,326.6 L162.3,311.7 L165.0,309.8 L168.2,320.4 L171.4,321.9 L176.6,300.5 L180.9,304.2 L183.0,298.3 L185.5,277.0 L189.2,237.4 L192.4,248.6 L195.4,258.5 L197.9,256.0 L201.1,274.2 L203.9,248.6 L206.8,258.5 L209.8,263.5 L212.3,277.1 L216.0,316.9 L218.5,334.3 L221.0,323.1 L224.2,326.8 L227.7,374.0 L230.9,349.2 L234.2,319.4 L237.1,299.5 L240.1,295.8 L242.6,244.8 L245.0,204.4 L249.2,122.4 L252.4,144.8 L255.4,157.2 L257.9,179.6 L261.1,152.2 L264.1,131.1 L267.3,152.2 L269.8,157.2 L273.5,159.7 L276.8,160.9 L279.3,190.0 L282.2,185.8 L285.2,182.5 L288.4,162.2 L290.4,214.3 L293.4,218.1 L297.1,234.2 L299.8,272.2 L302.6,329.8 L305.7,313.5 L309.1,330.9 L311.7,334.1 L315.0,345.7 L318.3,318.9 L323.7,232.0 L327.0,245.0 L330.2,246.1 L335.7,288.5 L338.9,285.2 L342.2,308.0 L348.3,292.8 L350.9,296.1 L354.1,314.6 L360.7,292.8 L363.9,291.7 L366.5,304.8 L371.5,315.7 L377.5,340.7 L380.6,336.8 L384.0,345.3 L386.8,345.8 L390.2,350.0 L394.8,346.1 L399.2,325.6 L401.8,336.0 L404.5,308.8 L407.6,303.4 L410.7,322.0 L414.3,292.5 L417.4,301.1 L419.7,315.0 L422.8,332.1 L425.9,328.7 L429.0,331.3 L431.8,339.9 L434.9,329.3 L438.0,338.0 L441.4,339.1 L446.1,344.5 L450.0,339.1 L453.1,345.3 L456.2,340.7 L460.1,330.9 L463.2,332.1 L466.3,341.4 L467.6,355.2 L470.9,374.8 L476.3,368.3 L480.0,399.8 L482.8,387.8 L487.2,413.9 L491.5,430.2 L494.8,415.0 L500.2,459.6 L504.6,453.0 L510.0,453.0 L516.1,468.3 L522.0,456.3 L525.2,460.7 L527.8,457.4 L531.7,467.8 L534.3,466.7 L537.6,459.1 L541.3,463.5 L544.8,476.5 L549.1,505.9 L551.7,501.5 L555.0,478.7 L558.3,498.3 L561.5,500.4 L564.3,488.5 L567.0,488.5 L570.2,484.1 L573.0,485.2 L575.7,451.5 L578.9,446.1 L582.2,411.3 L584.8,413.5 L587.6,393.9 L591.3,412.4 L595.2,397.2 L597.0,393.9 L600.0,379.8 L603.5,397.2 L606.5,414.6 L609.3,416.7 L612.2,404.9 L614.7,410.5 L617.8,413.3 L620.8,424.5 L624.0,435.6 L627.1,439.4 L630.1,434.7 L633.3,437.5 L637.0,460.8 L640.7,477.6 L645.0,493.4 L648.2,475.7 L651.0,495.3 L654.2,474.8 L657.5,482.2 L660.0,484.1 L663.1,500.9 L665.9,486.9 L668.7,485.0 L675.2,497.1 L678.0,495.3 L681.2,486.9 L684.2,491.5 L689.2,486.9 L692.0,479.4 L696.0,465.0 L699.4,443.6 L702.3,443.6 L705.4,449.6 L710.5,473.5 L716.5,470.9 L721.6,477.8 L723.3,479.5 L725.9,489.7 L729.0,479.5 L731.9,490.6 L734.8,478.6 L737.9,488.9 L741.3,494.9 L744.4,493.2 L749.8,471.8 L752.9,435.9 L758.4,448.7 L761.8,445.3 L764.9,445.8 L770.3,463.2 L774.1,467.5 L777.2,459.8 L779.7,462.4 L782.6,450.7 L786.0,448.1 L788.9,456.7 L791.6,444.7 L795.0,421.6 L798.0,431.9 L803.9,406.2 L807.4,412.2 L810.4,416.5 L816.8,455.0 L819.7,464.4 L821.9,463.5 L824.8,454.1 L827.5,458.4 L830.8,449.0 L834.4,462.6 L837.3,465.2 L839.8,469.5 L845.8,460.4 L851.8,466.9 L855.2,454.6 L863.8,474.6 L867.5,463.8 L869.7,463.5 L873.2,454.4 L876.4,465.5 L879.1,466.9 L884.5,456.4 L887.8,473.9 L896.3,470.9 L899.9,460.8 L902.7,460.8 L906.0,468.9 L908.8,470.9 L913.4,488.1 L918.1,495.6 L924.1,468.5 L927.0,470.9 L930.2,446.7 L933.0,447.7 L938.7,419.4 L942.7,438.6 L947.8,465.9 L953.2,427.5 L956.5,433.5 L959.9,421.4 L966.0,437.7 L968.9,425.7 L971.6,364.2 L974.5,360.8 L977.9,351.4 L980.5,354.8 L984.3,368.5 L987.4,350.5 L990.4,354.8 L994.7,328.8 L998.4,318.5 L1001.6,295.2 L1004.5,257.9 L1007.7,257.9 L1010.9,270.1 L1013.8,239.3 L1017.0,252.4 L1020.2,260.7 L1021.7,319.4 L1022.6,339.9 L1025.4,346.5 L1028.2,304.5 L1031.9,289.6 L1035.3,296.1 L1038.1,313.8 L1040.7,304.5 L1044.0,317.6 L1046.5,333.5 L1049.3,361.5 L1052.7,397.8 L1055.3,386.1 L1058.6,401.5 L1062.4,406.2 L1067.6,362.4 L1070.7,366.1 L1074.5,395.0 L1077.3,396.9 L1080.0,382.9 L1083.2,397.8 L1088.8,407.1 L1092.2,387.6 L1095.0,382.0 L1097.8,329.8 L1101.5,332.6 L1104.3,337.3 L1107.1,336.3 L1109.9,377.5" fill="none" stroke="#1db87f" stroke-width="2.8" stroke-linejoin="round" clip-path="url(#cTop)"/>
<path d="M16.5,319.5 L17.7,319.5 L19.1,310.4 L20.5,281.1 L23.1,298.3 L24.5,305.3 L26.5,333.0 L31.0,330.0 L35.0,333.0 L39.0,330.0 L41.9,338.6 L45.3,354.8 L47.9,365.9 L51.4,358.8 L57.4,388.1 L60.5,387.1 L63.5,355.8 L66.1,366.9 L69.1,338.8 L72.0,326.0 L76.0,327.0 L79.2,338.8 L83.7,357.5 L89.3,337.3 L94.8,319.8 L96.9,322.2 L98.4,334.0 L101.5,336.8 L104.9,331.2 L108.0,335.0 L110.9,316.4 L113.8,306.1 L117.0,310.4 L120.2,301.5 L123.1,312.3 L125.8,292.5 L128.7,294.4 L132.5,305.5 L135.6,304.2 L138.4,292.1 L141.2,260.9 L144.4,284.7 L147.7,304.2 L152.4,329.4 L155.5,326.0 L159.3,326.6 L162.3,311.7 L165.0,309.8 L168.2,320.4 L171.4,321.9 L176.6,300.5 L180.9,304.2 L183.0,298.3 L185.5,277.0 L189.2,237.4 L192.4,248.6 L195.4,258.5 L197.9,256.0 L201.1,274.2 L203.9,248.6 L206.8,258.5 L209.8,263.5 L212.3,277.1 L216.0,316.9 L218.5,334.3 L221.0,323.1 L224.2,326.8 L227.7,374.0 L230.9,349.2 L234.2,319.4 L237.1,299.5 L240.1,295.8 L242.6,244.8 L245.0,204.4 L249.2,122.4 L252.4,144.8 L255.4,157.2 L257.9,179.6 L261.1,152.2 L264.1,131.1 L267.3,152.2 L269.8,157.2 L273.5,159.7 L276.8,160.9 L279.3,190.0 L282.2,185.8 L285.2,182.5 L288.4,162.2 L290.4,214.3 L293.4,218.1 L297.1,234.2 L299.8,272.2 L302.6,329.8 L305.7,313.5 L309.1,330.9 L311.7,334.1 L315.0,345.7 L318.3,318.9 L323.7,232.0 L327.0,245.0 L330.2,246.1 L335.7,288.5 L338.9,285.2 L342.2,308.0 L348.3,292.8 L350.9,296.1 L354.1,314.6 L360.7,292.8 L363.9,291.7 L366.5,304.8 L371.5,315.7 L377.5,340.7 L380.6,336.8 L384.0,345.3 L386.8,345.8 L390.2,350.0 L394.8,346.1 L399.2,325.6 L401.8,336.0 L404.5,308.8 L407.6,303.4 L410.7,322.0 L414.3,292.5 L417.4,301.1 L419.7,315.0 L422.8,332.1 L425.9,328.7 L429.0,331.3 L431.8,339.9 L434.9,329.3 L438.0,338.0 L441.4,339.1 L446.1,344.5 L450.0,339.1 L453.1,345.3 L456.2,340.7 L460.1,330.9 L463.2,332.1 L466.3,341.4 L467.6,355.2 L470.9,374.8 L476.3,368.3 L480.0,399.8 L482.8,387.8 L487.2,413.9 L491.5,430.2 L494.8,415.0 L500.2,459.6 L504.6,453.0 L510.0,453.0 L516.1,468.3 L522.0,456.3 L525.2,460.7 L527.8,457.4 L531.7,467.8 L534.3,466.7 L537.6,459.1 L541.3,463.5 L544.8,476.5 L549.1,505.9 L551.7,501.5 L555.0,478.7 L558.3,498.3 L561.5,500.4 L564.3,488.5 L567.0,488.5 L570.2,484.1 L573.0,485.2 L575.7,451.5 L578.9,446.1 L582.2,411.3 L584.8,413.5 L587.6,393.9 L591.3,412.4 L595.2,397.2 L597.0,393.9 L600.0,379.8 L603.5,397.2 L606.5,414.6 L609.3,416.7 L612.2,404.9 L614.7,410.5 L617.8,413.3 L620.8,424.5 L624.0,435.6 L627.1,439.4 L630.1,434.7 L633.3,437.5 L637.0,460.8 L640.7,477.6 L645.0,493.4 L648.2,475.7 L651.0,495.3 L654.2,474.8 L657.5,482.2 L660.0,484.1 L663.1,500.9 L665.9,486.9 L668.7,485.0 L675.2,497.1 L678.0,495.3 L681.2,486.9 L684.2,491.5 L689.2,486.9 L692.0,479.4 L696.0,465.0 L699.4,443.6 L702.3,443.6 L705.4,449.6 L710.5,473.5 L716.5,470.9 L721.6,477.8 L723.3,479.5 L725.9,489.7 L729.0,479.5 L731.9,490.6 L734.8,478.6 L737.9,488.9 L741.3,494.9 L744.4,493.2 L749.8,471.8 L752.9,435.9 L758.4,448.7 L761.8,445.3 L764.9,445.8 L770.3,463.2 L774.1,467.5 L777.2,459.8 L779.7,462.4 L782.6,450.7 L786.0,448.1 L788.9,456.7 L791.6,444.7 L795.0,421.6 L798.0,431.9 L803.9,406.2 L807.4,412.2 L810.4,416.5 L816.8,455.0 L819.7,464.4 L821.9,463.5 L824.8,454.1 L827.5,458.4 L830.8,449.0 L834.4,462.6 L837.3,465.2 L839.8,469.5 L845.8,460.4 L851.8,466.9 L855.2,454.6 L863.8,474.6 L867.5,463.8 L869.7,463.5 L873.2,454.4 L876.4,465.5 L879.1,466.9 L884.5,456.4 L887.8,473.9 L896.3,470.9 L899.9,460.8 L902.7,460.8 L906.0,468.9 L908.8,470.9 L913.4,488.1 L918.1,495.6 L924.1,468.5 L927.0,470.9 L930.2,446.7 L933.0,447.7 L938.7,419.4 L942.7,438.6 L947.8,465.9 L953.2,427.5 L956.5,433.5 L959.9,421.4 L966.0,437.7 L968.9,425.7 L971.6,364.2 L974.5,360.8 L977.9,351.4 L980.5,354.8 L984.3,368.5 L987.4,350.5 L990.4,354.8 L994.7,328.8 L998.4,318.5 L1001.6,295.2 L1004.5,257.9 L1007.7,257.9 L1010.9,270.1 L1013.8,239.3 L1017.0,252.4 L1020.2,260.7 L1021.7,319.4 L1022.6,339.9 L1025.4,346.5 L1028.2,304.5 L1031.9,289.6 L1035.3,296.1 L1038.1,313.8 L1040.7,304.5 L1044.0,317.6 L1046.5,333.5 L1049.3,361.5 L1052.7,397.8 L1055.3,386.1 L1058.6,401.5 L1062.4,406.2 L1067.6,362.4 L1070.7,366.1 L1074.5,395.0 L1077.3,396.9 L1080.0,382.9 L1083.2,397.8 L1088.8,407.1 L1092.2,387.6 L1095.0,382.0 L1097.8,329.8 L1101.5,332.6 L1104.3,337.3 L1107.1,336.3 L1109.9,377.5" fill="none" stroke="#db394a" stroke-width="2.8" stroke-linejoin="round" clip-path="url(#cBot)"/>

<!-- open price label -->
<rect x="20.5" y="308" width="70" height="30" fill="#fff" fill-opacity="0.9"/>
<text x="25.5" y="326.8" font-size="17" fill="#5c6372" stroke="#5c6372" stroke-width="0.2">12.7268</text>

<!-- y axis -->
<text class="ax" x="1120.8" y="162.1">18.0</text>
<text class="ax" x="1120.8" y="223.8">16.0</text>
<text class="ax" x="1120.8" y="285.5">14.0</text>
<text class="ax" x="1120.8" y="347.2">12.0</text>
<text class="ax" x="1120.8" y="408.9">10.0</text>
<text class="ax" x="1120.8" y="470.6">8.0</text>
<text class="ax" x="1120.8" y="532.3">6.0</text>

<!-- current price tag -->
<rect x="1112" y="357.6" width="49.5" height="35.7" rx="3" fill="#ea3943"/>
<text x="1121.1" y="381.8" font-size="16" font-weight="bold" fill="#fff">10.8</text>

<text x="1130.5" y="602.7" font-size="16.5" font-weight="bold" fill="#7d8593" letter-spacing="0.6">USD</text>

<!-- x axis -->
<svg x="0" y="600" width="1200" height="33" overflow="hidden">
<g class="ax" transform="translate(0,-600)">
<text x="142.5" y="632">Mar '24</text>
<text x="323.75" y="632">May '24</text>
<text x="512" y="632">Jul '24</text>
<text x="694.5" y="632">Sep '24</text>
<text x="877" y="632">Nov '24</text>
<text x="1061.7" y="632">Jan '25</text>
</g>
</svg>
</svg>
</body></html>
